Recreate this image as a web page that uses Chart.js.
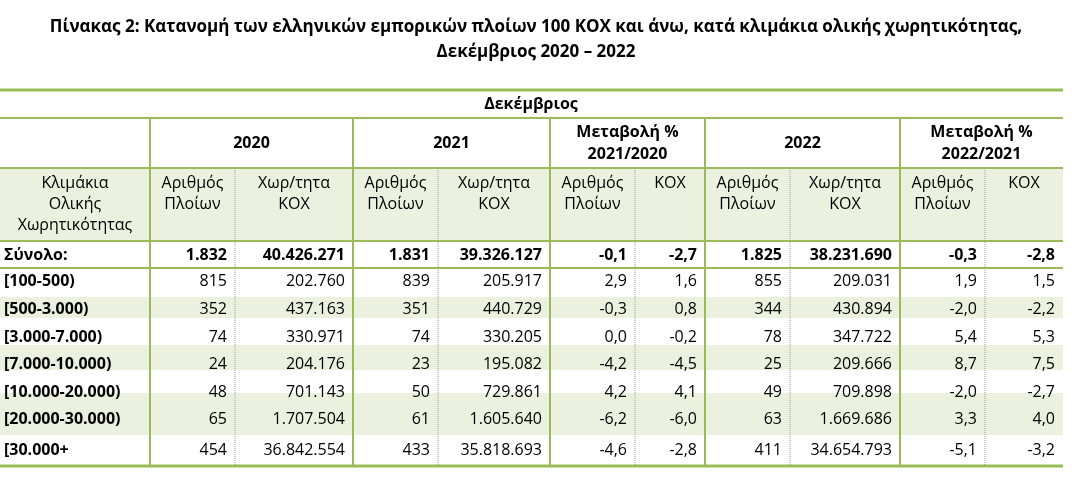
<!DOCTYPE html><html><head><meta charset="utf-8">
<script src="https://cdn.jsdelivr.net/npm/chart.js@4/dist/chart.umd.min.js"></script>
<style>html,body{margin:0;padding:0;background:#fff}#w{width:1073px;height:480px}</style></head>
<body><div id="w"><canvas id="c"></canvas></div>
<script>
const titleLines=["Πίνακας 2: Κατανομή των ελληνικών εμπορικών πλοίων 100 ΚΟΧ και άνω, κατά κλιμάκια ολικής χωρητικότητας,","Δεκέμβριος 2020 – 2022"];
const categories=["[100-500)","[500-3.000)","[3.000-7.000)","[7.000-10.000)","[10.000-20.000)","[20.000-30.000)","[30.000+"];
const ships2020=["815","352","74","24","48","65","454"];
const gt2020=["202.760","437.163","330.971","204.176","701.143","1.707.504","36.842.554"];
const ships2021=["839","351","74","23","50","61","433"];
const gt2021=["205.917","440.729","330.205","195.082","729.861","1.605.640","35.818.693"];
const chShips21=["2,9","-0,3","0,0","-4,2","4,2","-6,2","-4,6"];
const chGt21=["1,6","0,8","-0,2","-4,5","4,1","-6,0","-2,8"];
const ships2022=["855","344","78","25","49","63","411"];
const gt2022=["209.031","430.894","347.722","209.666","709.898","1.669.686","34.654.793"];
const chShips22=["1,9","-2,0","5,4","8,7","-2,0","3,3","-5,1"];
const chGt22=["1,5","-2,2","5,3","7,5","-2,7","4,0","-3,2"];
const totalLabel="Σύνολο:";
const totals=["1.832","40.426.271","1.831","39.326.127","-0,1","-2,7","1.825","38.231.690","-0,3","-2,8"];
const topHeader="Δεκέμβριος";
const yearHeaders=["2020","2021","Μεταβολή %\n2021/2020","2022","Μεταβολή %\n2022/2021"];
const subHeaders=["Κλιμάκια\nΟλικής\nΧωρητικότητας","Αριθμός\nΠλοίων","Χωρ/τητα\nΚΟΧ","Αριθμός\nΠλοίων","Χωρ/τητα\nΚΟΧ","Αριθμός\nΠλοίων","ΚΟΧ","Αριθμός\nΠλοίων","Χωρ/τητα\nΚΟΧ","Αριθμός\nΠλοίων","ΚΟΧ"];

const colX=[0,150,235,353,438,550,635,705,790,900,985,1063];
const bodyTextY=[281,309,337,364,392,419,450];
const green="#9bbb59", band="#ebf1de";
const F='"Open Sans", "Liberation Sans", sans-serif';

const tablePlugin={id:'tbl',afterDraw(ch){
 const c=ch.ctx, X=v=>ch.scales.x.getPixelForValue(v), Y=v=>ch.scales.y.getPixelForValue(v);
 c.save();
 c.fillStyle="#000";c.textAlign="center";c.textBaseline="middle";
 c.font="bold 17px "+F;
 c.fillText(titleLines[0],X(536),Y(27));c.fillText(titleLines[1],X(536),Y(52));
 c.fillStyle=band;
 c.fillRect(X(0),Y(168),X(1063)-X(0),Y(241)-Y(168));
 [[297,318],[345,370],[393,435]].forEach(([a,b])=>c.fillRect(X(0),Y(a),X(1063)-X(0),Y(b)-Y(a)));
 c.strokeStyle=green;
 const h=(y,w)=>{c.lineWidth=w;c.beginPath();c.moveTo(X(0),Y(y));c.lineTo(X(1063),Y(y));c.stroke();};
 h(90,3);h(118,2);h(168,2);h(241,2);h(268,2);h(466,3);
 const v=(x,y0,y1,w,dash)=>{c.lineWidth=w;c.setLineDash(dash||[]);c.strokeStyle=dash?"#999":green;c.beginPath();c.moveTo(X(x),Y(y0));c.lineTo(X(x),Y(y1));c.stroke();c.setLineDash([]);};
 [150,353,550,705,900].forEach(x=>v(x,118,466,2));
 [235,438,635,790,985].forEach(x=>v(x,168,466,1,[1,1]));
 c.fillStyle="#000";c.font="bold 16px "+F;c.textAlign="center";
 c.fillText(topHeader,X(531),Y(104));
 const yc=[[150,353],[353,550],[550,705],[705,900],[900,1063]];
 yearHeaders.forEach((t,i)=>{const ls=t.split("\n");const cx=(yc[i][0]+yc[i][1])/2;
  ls.forEach((l,j)=>c.fillText(l,X(cx),Y(143+(j-(ls.length-1)/2)*22)));});
 c.font="16px "+F;
 subHeaders.forEach((t,i)=>{const ls=t.split("\n");const cx=(colX[i]+colX[i+1])/2;
  ls.forEach((l,j)=>c.fillText(l,X(cx),Y(183+j*21)));});
 const cols=[ships2020,gt2020,ships2021,gt2021,chShips21,chGt21,ships2022,gt2022,chShips22,chGt22];
 c.font="bold 16px "+F;c.textAlign="left";c.fillText(totalLabel,X(4),Y(255));
 c.textAlign="right";totals.forEach((t,i)=>c.fillText(t,X(colX[i+2]-8),Y(255)));
 categories.forEach((cat,r)=>{
  c.font="bold 16px "+F;c.textAlign="left";c.fillText(cat,X(4),Y(bodyTextY[r]));
  c.font="16px "+F;c.textAlign="right";
  cols.forEach((arr,i)=>c.fillText(arr[r],X(colX[i+2]-8),Y(bodyTextY[r])));
 });
 c.restore();
}};
new Chart(document.getElementById('c'),{type:'scatter',data:{datasets:[{data:[]}]},
 options:{responsive:true,maintainAspectRatio:false,animation:false,layout:{padding:0},
 plugins:{legend:{display:false},tooltip:{enabled:false}},
 scales:{x:{type:'linear',min:0,max:1073,display:false},y:{type:'linear',min:0,max:480,reverse:true,display:false}}},
 plugins:[tablePlugin]});
</script></body></html>
